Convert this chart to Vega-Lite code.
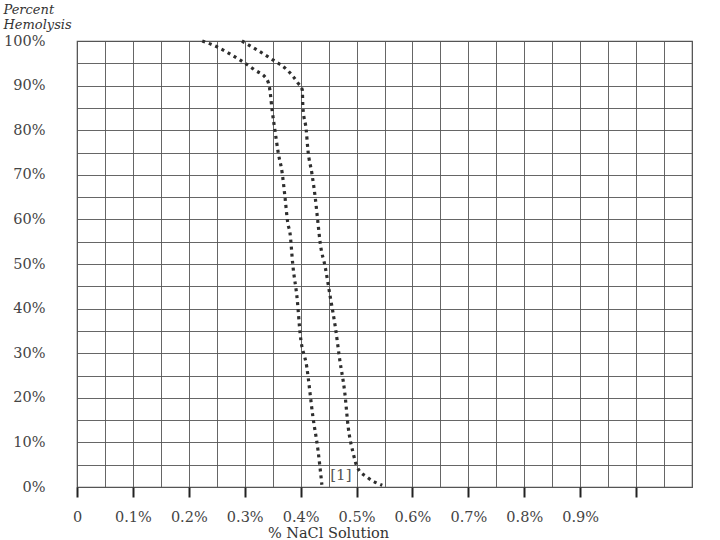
{
  "$schema": "https://vega.github.io/schema/vega-lite/v6.json",
  "width": 615,
  "height": 446,
  "autosize": {"type": "none"},
  "padding": {"left": 77, "top": 41, "right": 28, "bottom": 53},
  "background": "white",
  "config": {
    "view": {"stroke": "#555", "strokeWidth": 1.2},
    "font": "DejaVu Serif"
  },
  "datasets": {
    "curves": [
      {"curve": "A", "nacl": 0.224, "hemolysis": 100},
      {"curve": "A", "nacl": 0.243, "hemolysis": 99.1},
      {"curve": "A", "nacl": 0.292, "hemolysis": 95.7},
      {"curve": "A", "nacl": 0.318, "hemolysis": 93.5},
      {"curve": "A", "nacl": 0.340, "hemolysis": 91.3},
      {"curve": "A", "nacl": 0.345, "hemolysis": 89.0},
      {"curve": "A", "nacl": 0.349, "hemolysis": 84.5},
      {"curve": "A", "nacl": 0.354, "hemolysis": 80.0},
      {"curve": "A", "nacl": 0.360, "hemolysis": 74.9},
      {"curve": "A", "nacl": 0.367, "hemolysis": 70.4},
      {"curve": "A", "nacl": 0.372, "hemolysis": 65.0},
      {"curve": "A", "nacl": 0.377, "hemolysis": 59.2},
      {"curve": "A", "nacl": 0.381, "hemolysis": 56.9},
      {"curve": "A", "nacl": 0.386, "hemolysis": 49.8},
      {"curve": "A", "nacl": 0.394, "hemolysis": 41.9},
      {"curve": "A", "nacl": 0.399, "hemolysis": 34.5},
      {"curve": "A", "nacl": 0.411, "hemolysis": 26.9},
      {"curve": "A", "nacl": 0.422, "hemolysis": 15.7},
      {"curve": "A", "nacl": 0.431, "hemolysis": 8.3},
      {"curve": "A", "nacl": 0.438, "hemolysis": 0.5},
      {"curve": "B", "nacl": 0.295, "hemolysis": 100},
      {"curve": "B", "nacl": 0.351, "hemolysis": 95.7},
      {"curve": "B", "nacl": 0.376, "hemolysis": 93.5},
      {"curve": "B", "nacl": 0.395, "hemolysis": 90.6},
      {"curve": "B", "nacl": 0.403, "hemolysis": 89.0},
      {"curve": "B", "nacl": 0.404, "hemolysis": 85.2},
      {"curve": "B", "nacl": 0.410, "hemolysis": 80.0},
      {"curve": "B", "nacl": 0.413, "hemolysis": 75.6},
      {"curve": "B", "nacl": 0.420, "hemolysis": 70.4},
      {"curve": "B", "nacl": 0.426, "hemolysis": 65.0},
      {"curve": "B", "nacl": 0.431, "hemolysis": 59.2},
      {"curve": "B", "nacl": 0.435, "hemolysis": 54.7},
      {"curve": "B", "nacl": 0.444, "hemolysis": 49.3},
      {"curve": "B", "nacl": 0.453, "hemolysis": 42.6},
      {"curve": "B", "nacl": 0.462, "hemolysis": 35.9},
      {"curve": "B", "nacl": 0.470, "hemolysis": 28.5},
      {"curve": "B", "nacl": 0.479, "hemolysis": 21.1},
      {"curve": "B", "nacl": 0.485, "hemolysis": 13.5},
      {"curve": "B", "nacl": 0.494, "hemolysis": 7.6},
      {"curve": "B", "nacl": 0.501, "hemolysis": 4.5},
      {"curve": "B", "nacl": 0.519, "hemolysis": 2.2},
      {"curve": "B", "nacl": 0.546, "hemolysis": 0.4}
    ],
    "notes": [
      {"label": "[1]", "nacl": 0.472, "hemolysis": 2.7}
    ]
  },
  "resolve": {"axis": {"x": "independent", "y": "independent"}},
  "layer": [
    {
      "data": {"name": "notes"},
      "mark": {"type": "text", "font": "DejaVu Serif", "fontSize": 15, "color": "#555", "align": "center", "baseline": "middle"},
      "encoding": {
        "x": {
          "field": "nacl", "type": "quantitative",
          "scale": {"domain": [0, 1.1], "nice": false, "zero": true},
          "axis": {
            "orient": "bottom",
            "values": [0, 0.05, 0.1, 0.15, 0.2, 0.25, 0.3, 0.35, 0.4, 0.45, 0.5, 0.55, 0.6, 0.65, 0.7, 0.75, 0.8, 0.85, 0.9, 0.95, 1.0, 1.05, 1.1],
            "tickCount": 100,
            "grid": true,
            "gridColor": "#555",
            "gridWidth": 1,
            "gridOpacity": 0.9,
            "labels": false,
            "domain": false,
            "ticks": false,
            "title": null
          }
        },
        "y": {
          "field": "hemolysis", "type": "quantitative",
          "scale": {"domain": [0, 100], "nice": false},
          "axis": {
            "orient": "left",
            "values": [0, 5, 10, 15, 20, 25, 30, 35, 40, 45, 50, 55, 60, 65, 70, 75, 80, 85, 90, 95, 100],
            "tickCount": 100,
            "labelExpr": "datum.value % 10 != 0 ? '' : datum.value + '%'",
            "grid": true,
            "gridColor": "#555",
            "gridWidth": 1,
            "gridOpacity": 0.9,
            "domain": false,
            "ticks": false,
            "labelFont": "DejaVu Serif",
            "labelFontSize": 14.5,
            "labelColor": "#444",
            "labelPadding": 32,
            "labelFlush": false,
            "labelOverlap": false,
            "title": ["Percent", "Hemolysis"],
            "titleFont": "DejaVu Serif",
            "titleFontSize": 13,
            "titleFontStyle": "italic",
            "titleFontWeight": "normal",
            "titleColor": "#333",
            "titleAngle": 0,
            "titleAlign": "left",
            "titleBaseline": "alphabetic",
            "titleLineHeight": 15,
            "titleX": -74,
            "titleY": -28
          }
        },
        "text": {"field": "label", "type": "nominal"}
      }
    },
    {
      "data": {"name": "curves"},
      "mark": {"type": "line", "color": "#2e2e2e", "strokeWidth": 3.2, "strokeDash": [3, 4], "interpolate": "monotone"},
      "encoding": {
        "x": {
          "field": "nacl", "type": "quantitative",
          "axis": {
            "orient": "bottom",
            "values": [0, 0.1, 0.2, 0.3, 0.4, 0.5, 0.6, 0.7, 0.8, 0.9, 1.0],
            "labelExpr": "datum.value > 0.95 ? '' : (datum.value == 0 ? '0' : format(datum.value, '.1f') + '%')",
            "grid": false,
            "domain": false,
            "ticks": true,
            "tickColor": "#222",
            "tickWidth": 2,
            "tickSize": 10,
            "tickOpacity": 1,
            "labelFont": "DejaVu Serif",
            "labelFontSize": 14.5,
            "labelColor": "#444",
            "labelPadding": 13,
            "labelFlush": false,
            "labelOverlap": false,
            "title": "% NaCl Solution",
            "titleFont": "DejaVu Serif",
            "titleFontSize": 14.5,
            "titleFontWeight": "normal",
            "titleColor": "#333",
            "titleX": 251,
            "titleY": 50,
            "titleAlign": "center",
            "titleBaseline": "alphabetic"
          }
        },
        "y": {"field": "hemolysis", "type": "quantitative", "axis": null},
        "detail": {"field": "curve", "type": "nominal"}
      }
    }
  ]
}
